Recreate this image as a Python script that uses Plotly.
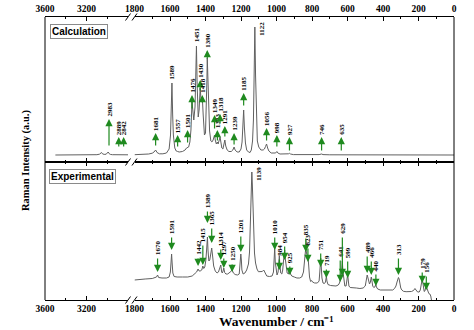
import plotly.graph_objects as go

# ---------------- data ----------------
# Calculated spectrum, high-wavenumber segment (cm-1, a.u.)
calc_hi_wn = [3500, 3300, 3100, 3075, 3064, 3055, 3046, 3030, 3010, 3000, 2991, 2982, 2970, 2950, 2900, 2850, 2800]
calc_hi_I = [0, 0, 0.3, 0.8, 1.5, 2.5, 1.2, 0.6, 0.8, 1.6, 3, 1.4, 0.6, 0.3, 0.2, 0.2, 0.2]

# Calculated spectrum, fingerprint segment
calc_wn = [1800, 1760, 1720, 1700, 1690, 1681, 1673, 1660, 1640, 1620, 1605, 1597, 1593, 1589, 1585,
           1581, 1573, 1565, 1557, 1548, 1530, 1515, 1507, 1501, 1495, 1488, 1482, 1476, 1471, 1466,
           1459, 1455, 1451, 1447, 1441, 1436, 1433, 1430, 1425, 1421, 1418, 1413, 1406, 1400, 1395,
           1392, 1390, 1387, 1383, 1377, 1370, 1364, 1357, 1352, 1349, 1345, 1339, 1336, 1333, 1329,
           1324, 1321, 1318, 1314, 1308, 1302, 1296, 1291, 1286, 1278, 1268, 1255, 1246, 1239, 1233,
           1222, 1210, 1200, 1194, 1189, 1185, 1181, 1175, 1168, 1158, 1149, 1142, 1135, 1130, 1126,
           1122, 1118, 1114, 1108, 1100, 1088, 1075, 1068, 1062, 1056, 1050, 1043, 1030, 1015, 1005,
           998, 991, 980, 960, 940, 933, 927, 921, 905, 870, 845, 835, 820, 790, 760,
           746, 738, 700, 660, 640, 635, 628, 560, 500, 430, 380, 300, 200, 100, 0]
calc_I = [0.3, 0.5, 1, 1.8, 3, 5, 2.5, 1.2, 1.2, 2, 6, 20, 40, 72, 40,
          20, 7, 4, 3.5, 3, 3.5, 5, 7, 8, 8, 13, 25, 53, 38, 35,
          48, 80, 109, 70, 38, 45, 60, 67, 55, 56, 58, 40, 20, 22, 45,
          75, 97, 78, 45, 24, 14, 13, 15, 18, 20, 15, 11, 12, 13, 11,
          13, 16, 18, 13, 7, 6, 10, 15, 9, 5, 3.5, 3.5, 5, 8, 5,
          3, 3, 6, 13, 30, 45, 28, 12, 5, 3, 2.5, 5, 14, 35, 80,
          128, 80, 35, 14, 8, 5, 5, 6, 8.5, 11, 7, 4, 2, 1.6, 2,
          3.5, 1.8, 1, 0.8, 0.8, 1.2, 1.7, 1, 0.4, 0.3, 0.6, 0.6, 0.3, 0.2, 0.4,
          1, 0.4, 0.2, 0.2, 0.5, 0.6, 0.3, 0.2, 0.3, 0.5, 0.4, 0.2, 0.1, 0, 0]

# Experimental spectrum
exp_wn = [1800, 1780, 1740, 1700, 1685, 1676, 1670, 1664, 1645, 1620, 1605, 1598, 1594, 1591, 1588,
          1584, 1577, 1560, 1530, 1500, 1475, 1460, 1450, 1442, 1436, 1430, 1421, 1415, 1410, 1404,
          1398, 1393, 1389, 1386, 1381, 1376, 1371, 1365, 1360, 1354, 1345, 1335, 1327, 1320, 1314,
          1309, 1305, 1301, 1297, 1292, 1285, 1275, 1265, 1257, 1250, 1243, 1233, 1220, 1210, 1206,
          1203, 1201, 1198, 1195, 1188, 1178, 1168, 1158, 1152, 1147, 1143, 1139, 1136, 1132, 1128,
          1124, 1118, 1110, 1102, 1090, 1080, 1072, 1065, 1055, 1040, 1025, 1017, 1013, 1010, 1007,
          1002, 997, 991, 987, 984, 981, 976, 970, 965, 960, 957, 954, 951, 946, 940,
          933, 928, 925, 921, 914, 900, 885, 870, 858, 848, 842, 838, 835, 831, 827,
          823, 819, 814, 808, 802, 797, 785, 770, 760, 756, 753, 751, 748, 744, 738,
          730, 724, 721, 719, 716, 710, 695, 680, 665, 652, 645, 641, 637, 633, 629,
          626, 621, 615, 608, 603, 601, 599, 596, 592, 585, 570, 550, 530, 512, 500,
          494, 491, 489, 486, 481, 476, 471, 468, 466, 463, 458, 452, 446, 442, 440,
          437, 430, 415, 400, 380, 360, 345, 335, 327, 321, 317, 313, 309, 305, 300,
          294, 285, 270, 255, 240, 228, 220, 214, 205, 196, 190, 186, 182, 179, 176,
          172, 168, 164, 160, 156, 153, 148, 142, 136, 131, 127]
exp_I = [20, 20.5, 21, 21.5, 22, 23, 25, 22.5, 22, 22, 23, 28, 38, 46, 37,
         27, 23.5, 23, 23, 23, 24, 26, 28, 31, 29, 29, 30, 34, 31.5, 33,
         40, 52, 63, 50, 39, 40, 46, 52, 44, 34, 29, 27, 28, 31, 35,
         28, 27, 29, 32, 27.5, 26, 26, 27, 28.5, 30, 27, 25.5, 25, 26, 33,
         42, 46, 40, 30, 26, 27, 30, 36, 48, 72, 105, 128, 115, 88, 62,
         47, 37, 31, 28.3, 28, 28.5, 30, 28, 24, 23.5, 24, 28, 40, 52.5, 38,
         27, 25, 28, 38, 44, 35, 27, 26, 30, 40, 46, 50, 42, 32, 27,
         26, 28, 31, 26, 24, 23, 22, 22, 23, 28, 38, 50, 52.5, 47, 44,
         45, 35, 23, 18.5, 19.5, 18, 17, 17, 19, 28, 38, 42, 34, 22, 17,
         16.5, 18, 22, 24, 19, 15.5, 14.5, 14, 14, 15, 17, 20, 22, 29, 39,
         29, 18, 14, 14, 18, 23, 25, 20, 14, 12.5, 12, 12, 11.5, 12, 14,
         19, 23, 25, 23, 17, 16, 18, 22, 23, 20, 14, 12.5, 13, 15, 15.5,
         13, 11, 10, 10, 9.5, 9.5, 10, 11.5, 14, 18, 21, 22.5, 21, 16, 12,
         10, 8.7, 8.3, 8.3, 8.5, 9.5, 11.5, 10, 8, 8, 10, 14, 19, 21, 18,
         12, 8.5, 9, 12, 15, 12, 8, 6.5, 6, 4, 0]

# Band assignments (arrows): calculated spectrum, arrows point up
calc_arrow_wn = [2983, 2889, 2842, 1681, 1557, 1501, 1476, 1430, 1418, 1390, 1349,
                 1333, 1318, 1291, 1239, 1185, 1056, 998, 927, 746, 635]
calc_arrow_tail = [8, 7, 7, 8, 7, 11, 45, 63, 51, 95, 25, 13, 30, 17, 9, 48, 13, 7, 3, 3, 3]
calc_arrow_tip = [36, 18, 18, 22, 20, 25, 60, 75, 60, 105, 40, 25, 41, 29, 22, 62, 27, 20, 18, 18, 18]
calc_plain_wn = [1589, 1451]
calc_plain_I = [72, 109]
calc_side_wn = [1122]
calc_side_I = [128]

# Experimental spectrum, arrows point down
exp_arrow_wn = [1670, 1591, 1442, 1415, 1389, 1365, 1314, 1297, 1250, 1201, 1010, 984, 954, 925,
                835, 823, 751, 719, 641, 629, 599, 489, 466, 440, 313, 179, 156]
exp_arrow_tail = [43, 64, 43, 56, 90, 73, 52, 43, 37, 65, 64, 42, 55, 35,
                  63, 53, 48, 32, 41, 64, 40, 45, 40, 27, 43, 29, 25]
exp_arrow_tip = [28, 50, 34, 35, 77, 57, 40, 32, 28, 48, 50, 30, 40, 25,
                 48, 38, 33, 22, 18, 24, 22, 27, 25, 14, 25, 17, 10]
exp_side_wn = [1139]
exp_side_I = [128]

# axis tick values
left_major = [3600, 3200]
left_minor = [3400, 3000, 2800]

# ---------------- layout constants ----------------
W, H = 474, 330
ML, MR, MT, MB = 45, 20, 17, 30
PW, PH = W - ML - MR, H - MT - MB
LEFT_END = 83 / PW
RIGHT_START = 89.5 / PW
SPLIT = 138 / PH

SERIF = "Liberation Serif"
SANS = "Liberation Sans"
LINE_COL = "#606060"
GREEN = "#1f8a1f"

fig = go.Figure()
# empty holder so the lower-left axis pair is created
fig.add_trace(go.Scatter(x=[3600, 2800], y=[None, None], xaxis="x", yaxis="y", mode="lines",
                         showlegend=False, hoverinfo="skip"))
fig.add_trace(go.Scatter(x=calc_hi_wn, y=calc_hi_I, xaxis="x3", yaxis="y2", mode="lines",
                         line=dict(color=LINE_COL, width=1), showlegend=False))
fig.add_trace(go.Scatter(x=calc_wn, y=calc_I, xaxis="x4", yaxis="y2", mode="lines",
                         line=dict(color=LINE_COL, width=1), showlegend=False))
fig.add_trace(go.Scatter(x=exp_wn, y=exp_I, xaxis="x2", yaxis="y", mode="lines",
                         line=dict(color=LINE_COL, width=1), showlegend=False))

tickfont = dict(family=SERIF, size=9.5, color="black", weight="bold")
common = dict(showline=True, linecolor="black", linewidth=1, mirror="ticks", ticks="inside",
              ticklen=4, tickcolor="black", showgrid=False, zeroline=False, tickfont=tickfont,
              automargin=False)

left_ax = dict(range=[3600, 2800], domain=[0, LEFT_END], tickmode="array",
               tickvals=left_major, ticktext=[str(v) for v in left_major],
               minor=dict(ticks="inside", ticklen=2, tickmode="array", tickvals=left_minor,
                          tickcolor="black"), **common)
right_ax = dict(range=[1800, 0], domain=[RIGHT_START, 1], tickmode="linear", tick0=0, dtick=200,
                minor=dict(ticks="inside", ticklen=2, dtick=100, tick0=0, tickcolor="black"), **common)

fig.update_layout(
    width=W, height=H, margin=dict(l=ML, r=MR, t=MT, b=MB, autoexpand=False),
    paper_bgcolor="white", plot_bgcolor="white",
    xaxis=dict(anchor="y", side="bottom", **left_ax),
    xaxis2=dict(anchor="y", side="bottom", **right_ax),
    xaxis3=dict(anchor="y2", side="top", **left_ax),
    xaxis4=dict(anchor="y2", side="top", **right_ax),
    yaxis=dict(domain=[0, SPLIT], range=[0, 138], anchor="x", visible=False),
    yaxis2=dict(domain=[SPLIT, 1], range=[-7, 138], anchor="x3", visible=False),
)

ann = []
label_font = dict(family=SERIF, size=7, color="black", weight="bold")
for wn, tail, tip in zip(calc_arrow_wn, calc_arrow_tail, calc_arrow_tip):
    xr = "x3" if wn > 2000 else "x4"
    ann.append(dict(x=wn, y=tip, ax=wn, ay=tail, xref=xr, yref="y2", axref=xr, ayref="y2",
                    text="", showarrow=True, arrowhead=2, arrowsize=1.2, arrowwidth=1.2,
                    arrowcolor=GREEN))
    ann.append(dict(x=wn, y=tip, xref=xr, yref="y2", text=str(wn), showarrow=False,
                    textangle=-90, yanchor="bottom", xanchor="center", yshift=1,
                    font=label_font, borderpad=0))
for wn, v in zip(calc_plain_wn, calc_plain_I):
    ann.append(dict(x=wn, y=v, xref="x4", yref="y2", text=str(wn), showarrow=False,
                    textangle=-90, yanchor="bottom", xanchor="center", yshift=3,
                    font=label_font, borderpad=0))
for wn, v in zip(calc_side_wn, calc_side_I):
    ann.append(dict(x=wn, y=v, xref="x4", yref="y2", text=str(wn), showarrow=False,
                    textangle=-90, yanchor="top", xanchor="left", xshift=2, yshift=6,
                    font=label_font, borderpad=0))
for wn, tail, tip in zip(exp_arrow_wn, exp_arrow_tail, exp_arrow_tip):
    ann.append(dict(x=wn, y=tip, ax=wn, ay=tail, xref="x2", yref="y", axref="x2", ayref="y",
                    text="", showarrow=True, arrowhead=2, arrowsize=1.2, arrowwidth=1.2,
                    arrowcolor=GREEN))
    ann.append(dict(x=wn, y=tail, xref="x2", yref="y", text=str(wn), showarrow=False,
                    textangle=-90, yanchor="bottom", xanchor="center", yshift=1,
                    font=label_font, borderpad=0))
for wn, v in zip(exp_side_wn, exp_side_I):
    ann.append(dict(x=wn, y=v, xref="x2", yref="y", text=str(wn), showarrow=False,
                    textangle=-90, yanchor="top", xanchor="left", xshift=2, yshift=6,
                    font=label_font, borderpad=0))

# panel labels
def fx(px):
    return (px - ML) / PW

def fy(py):
    return (H - MB - py) / PH

panel_font = dict(family=SANS, size=10, color="black", weight="bold")
ann.append(dict(x=fx(50), y=fy(24), xref="paper", yref="paper", xanchor="left", yanchor="top",
                text="Calculation", showarrow=False, font=panel_font, bgcolor="white",
                bordercolor="#8a8a8a", borderwidth=1, borderpad=1))
ann.append(dict(x=fx(49), y=fy(169), xref="paper", yref="paper", xanchor="left", yanchor="top",
                text="Experimental", showarrow=False, font=panel_font, bgcolor="white",
                bordercolor="#8a8a8a", borderwidth=1, borderpad=1))
# axis titles
title_font = dict(family=SERIF, size=13.5, color="black", weight="bold")
ann.append(dict(x=fx(276), y=fy(321.5), xref="paper", yref="paper", xanchor="center", yanchor="middle",
                text="Wavenumber / cm\u207b\u00b9", showarrow=False, font=title_font, borderpad=0))
ann.append(dict(x=fx(26), y=fy(161), xref="paper", yref="paper", xanchor="center", yanchor="middle",
                text="Raman Intensity (a.u.)", showarrow=False, textangle=-90,
                font=dict(family=SERIF, size=10.5, color="black", weight="bold")))
fig.update_layout(annotations=ann)

shapes = [
    dict(type="line", xref="paper", yref="paper", x0=0, x1=0, y0=0, y1=1,
         line=dict(color="black", width=1)),
    dict(type="line", xref="paper", yref="paper", x0=1, x1=1, y0=0, y1=1,
         line=dict(color="black", width=1)),
]
for py in (MT, MT + PH - 138, H - MB):
    for px in (ML + 83, ML + 89.5):
        shapes.append(dict(type="line", xref="paper", yref="paper",
                           x0=fx(px - 2.5), y0=fy(py + 3.5), x1=fx(px + 2.5), y1=fy(py - 3.5),
                           line=dict(color="black", width=1)))
fig.update_layout(shapes=shapes)

fig.write_html("out.html")
